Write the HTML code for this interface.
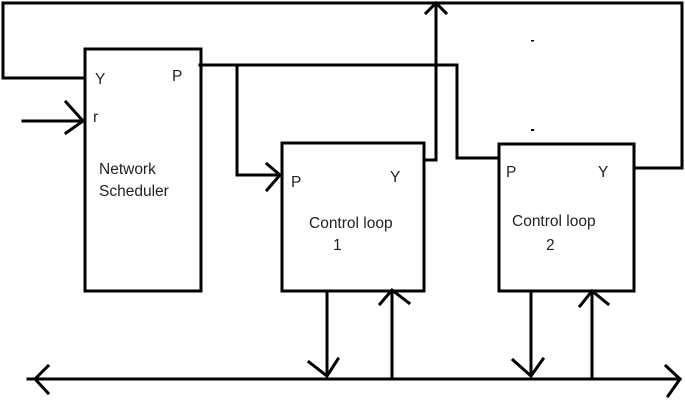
<!DOCTYPE html>
<html><head><style>body{margin:0;background:#fff}svg{display:block}text{font-family:"Liberation Sans",sans-serif;font-size:15.5px;fill:#222}</style></head><body>
<svg width="685" height="400" viewBox="0 0 685 400">
<g fill="none" stroke="#000" stroke-width="3" stroke-linecap="square">
<rect x="85" y="49" width="116" height="242"/>
<rect x="282" y="143" width="142" height="148"/>
<rect x="499" y="144" width="135" height="147"/>
<polyline points="85,78 3,78 3,3 682,3 682,168 634,168"/>
<polyline points="200,65 457,65 457,158 499,158"/>
<polyline points="237,65 237,175 280,175"/>
<polyline points="267,164 280,175 267,190"/>
<polyline points="424,160 436,160 436,3"/>
<polyline points="426,13 436,3 446,13"/>
<line x1="23" y1="121" x2="83" y2="121"/>
<polyline points="66,102 83,121 66,133"/>
<line x1="28" y1="379" x2="680" y2="379"/>
<polyline points="48,366 35,379 48,393"/>
<polyline points="666,366 680,379 668,396"/>
<line x1="327" y1="292" x2="327" y2="375"/>
<polyline points="309,362 327,376 338,359"/>
<line x1="392" y1="292" x2="392" y2="376"/>
<polyline points="380,304 392,290 409,303"/>
<line x1="531" y1="292" x2="531" y2="375"/>
<polyline points="513,360 531,376 543,359"/>
<line x1="592" y1="292" x2="592" y2="378"/>
<polyline points="580,306 592,291 608,304"/>
</g>
<rect x="531" y="40" width="3" height="1.5" fill="#000"/>
<rect x="531" y="129" width="3" height="2" fill="#000"/>
<text x="95" y="84">Y</text>
<text x="172" y="81">P</text>
<text x="93" y="122">r</text>
<text x="99" y="174">Network</text>
<text x="99" y="196">Scheduler</text>
<text x="291" y="187">P</text>
<text x="390" y="182">Y</text>
<text x="309" y="228">Control loop</text>
<text x="333" y="250">1</text>
<text x="506" y="177">P</text>
<text x="598" y="177">Y</text>
<text x="512" y="226">Control loop</text>
<text x="546" y="250">2</text>
</svg>
</body></html>
